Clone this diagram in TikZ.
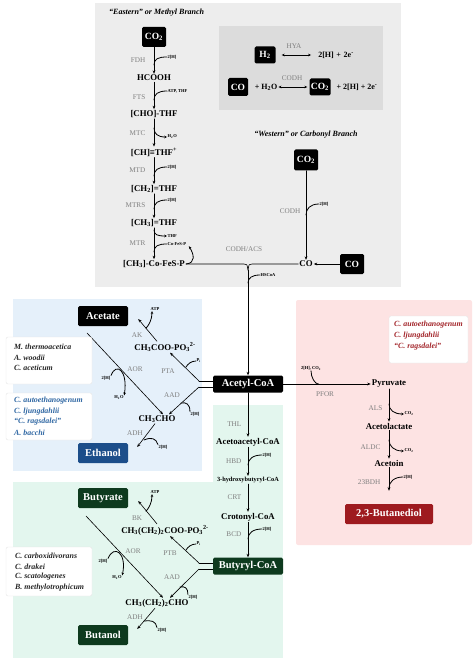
\documentclass[tikz,border=0pt]{standalone}
\usepackage{fontspec}
\setmainfont{Liberation Serif}
\usepackage{xcolor}
\usetikzlibrary{positioning,calc,arrows.meta}

\definecolor{panelgray}{HTML}{EDEDED}
\definecolor{innergray}{HTML}{DCDCDC}
\definecolor{panelblue}{HTML}{E5F0FA}
\definecolor{panelgreen}{HTML}{E3F6EE}
\definecolor{panelred}{HTML}{FDE3E3}
\definecolor{ethblue}{HTML}{1C4E8A}
\definecolor{butgreen}{HTML}{0E3A1E}
\definecolor{bdored}{HTML}{9E1A1F}
\definecolor{enzgray}{HTML}{7F7F7F}
\definecolor{orgblue}{HTML}{2F67A3}
\definecolor{orgred}{HTML}{A3262B}

\begin{document}
\begin{tikzpicture}[x=1pt,y=-1pt, line cap=round, line join=round]
	\useasboundingbox (0,0) rectangle (474,663);

	% ===== styles =====
	\tikzset{
		prodbox/.style={fill=black, text=white, rounded corners=1.5pt, inner sep=0pt,
			font=\bfseries\fontsize{10.5}{12}\selectfont, minimum width=50pt, minimum height=20pt},
		gasbox/.style={prodbox, font=\bfseries\fontsize{9.5}{11}\selectfont, minimum width=22pt, minimum height=18pt},
		met/.style={font=\bfseries\fontsize{8.8}{10}\selectfont, inner sep=1pt},
		enz/.style={text=enzgray, font=\fontsize{7.2}{8}\selectfont, inner sep=0.5pt},
		cof/.style={font=\bfseries\fontsize{4.5}{5}\selectfont, inner sep=0.5pt, anchor=west},
		flow/.style={-{Stealth[length=3.5pt,width=2.8pt]}, line width=0.6pt},
		dflow/.style={{Stealth[length=3pt,width=2.6pt]}-{Stealth[length=3pt,width=2.6pt]}, line width=0.6pt},
		cin/.style={line width=0.8pt},
		cout/.style={arrows={Stealth[length=2.8pt,width=2.6pt]-}, line width=0.8pt},
		sidearr/.style={arrows={-Stealth[length=2.8pt,width=2.6pt]}, line width=0.8pt},
		orgbox/.style={fill=white, draw=black!10, rounded corners=2pt},
		org/.style={font=\bfseries\itshape\fontsize{7.9}{9}\selectfont, anchor=west, inner sep=0pt},
		branch/.style={font=\bfseries\itshape\fontsize{8}{9}\selectfont, inner sep=0pt}
	}

	% ===== panels =====
	\fill[panelgray] (95,3) rectangle (401,287);
	\fill[innergray] (219,26) rectangle (383,110);
	\fill[panelblue] (13,299) rectangle (202,471);
	\fill[panelgreen] (213,405) rectangle (283,658);
	\fill[panelgreen] (13,482) rectangle (283,658);
	\fill[panelred, rounded corners=2pt] (296,300) rectangle (472,545);

	% ===== Eastern / methyl branch =====
	\node[branch, anchor=west] (eastlbl) at (109,13) {“Eastern” or Methyl Branch};
	\node[gasbox, minimum width=24pt, minimum height=20pt] (co2m) at (154,37) {CO\textsubscript{2}};
	\node[met] (hcooh) at (154,78) {HCOOH};
	\node[met] (chothf) at (154,114) {[CHO]-THF};
	\node[met] (chthf) at (154,152) {[CH]≡THF\textsuperscript{+}};
	\node[met] (ch2thf) at (154,189) {[CH\textsubscript{2}]=THF};
	\node[met] (ch3thf) at (154,223) {[CH\textsubscript{3}]=THF};
	\node[met] (ch3co) at (154,264) {[CH\textsubscript{3}]-Co-FeS-P};
	\foreach \a/\b in {co2m/hcooh, hcooh/chothf, chothf/chthf, chthf/ch2thf, ch2thf/ch3thf, ch3thf/ch3co}
		\draw[flow] (\a) -- (\b);
	\foreach \n/\t/\y in {fdh/FDH/60, fts/FTS/97, mtc/MTC/133, mtd/MTD/170, mtrs/MTRS/205, mtr/MTR/243}
		\node[enz, anchor=east] (\n) at (146,\y) {\t};

	\node[cof] (fdhh) at (167,57) {2[H]};
	\draw[cin] (fdhh.west) .. controls +(-9,0) and +(0,-6) .. ++(-13,8);
	\node[cof] (ftsh) at (167,91) {ATP, THF};
	\draw[cin] (ftsh.west) .. controls +(-9,0) and +(0,-6) .. ++(-13,9);
	\node[cof] (mtco) at (167,137) {H\textsubscript{2}O};
	\draw[cout] (mtco.west) .. controls +(-9,0) and +(0,6) .. ++(-13,-9);
	\node[cof] (mtdh) at (167,167) {2[H]};
	\draw[cin] (mtdh.west) .. controls +(-9,0) and +(0,-6) .. ++(-13,9);
	\node[cof] (mtrsh) at (167,200) {2[H]};
	\draw[cin] (mtrsh.west) .. controls +(-9,0) and +(0,-6) .. ++(-13,9);
	\node[cof] (mtrt) at (167,236) {THF};
	\draw[cout] (mtrt.west) .. controls +(-9,0) and +(0,5) .. ++(-13,-6);
	\node[cof] (mtrc) at (167,244) {Co-FeS-P};
	\draw[cin] (mtrc.west) .. controls +(-9,0) and +(0,-6) .. ++(-13,8);
	\draw[sidearr] (ch3co.east) .. controls +(10,-1) and +(5,8) .. ([xshift=2pt]mtrc.south east);

	% ===== gas box =====
	\node[gasbox, minimum width=21pt, minimum height=17pt] (h2) at (265,55) {H\textsubscript{2}};
	\node[met, font=\bfseries\fontsize{8}{9}\selectfont] (h2prod) at (336,55) {2[H]\,\,+\,\,2e\textsuperscript{-}};
	\node[enz] (hya) at (294,46) {HYA};
	\draw[dflow, shorten <=6pt, shorten >=6pt] (h2) -- (h2prod);
	\node[gasbox, minimum width=20pt, minimum height=18pt] (coin) at (238,87) {CO};
	\node[met, font=\bfseries\fontsize{8}{9}\selectfont] (h2oin) at (266,87) {+ H\textsubscript{2}O};
	\node[gasbox, minimum width=21pt, minimum height=17pt] (co2out) at (320,87) {CO\textsubscript{2}};
	\node[met, font=\bfseries\fontsize{8}{9}\selectfont] (coprod) at (357,87) {+ 2[H] + 2e\textsuperscript{-}};
	\node[enz] (codhin) at (292,78) {CODH};
	\draw[dflow, shorten >=2pt] (h2oin) -- (co2out);

	% ===== Western / carbonyl branch =====
	\node[branch] (westlbl) at (306,135) {“Western” or Carbonyl Branch};
	\node[gasbox, minimum width=24pt, minimum height=21pt] (co2w) at (306,160) {CO\textsubscript{2}};
	\node[met] (cow) at (306,264) {CO};
	\node[gasbox, minimum width=24pt, minimum height=20pt] (cogas) at (352,264) {CO};
	\draw[flow] (co2w) -- (cow);
	\draw[flow] (cogas) -- (cow);
	\node[enz, anchor=east] (codhw) at (301,211) {CODH};
	\node[cof] (codhh) at (319,204) {2[H]};
	\draw[cin] (codhh.west) .. controls +(-9,0) and +(0,-6) .. ++(-13,11);

	% ===== CODH/ACS =====
	\node[prodbox, minimum width=70pt, minimum height=17pt] (acoa) at (248,384) {Acetyl-CoA};
	\coordinate (jn) at (248,270);
	\draw[line width=0.6pt] (ch3co.east) -- (244,264) .. controls (247,264) .. (jn);
	\draw[line width=0.6pt] (cow.west) -- (252,264) .. controls (249,264) .. (jn);
	\draw[flow] (jn) -- (acoa);
	\node[enz] (codhacs) at (244,249) {CODH/ACS};
	\node[cof] (hscoa) at (260,275) {HSCoA};
	\draw[cin] (hscoa.west) .. controls +(-8,0) and +(0,-5) .. ++(-12,8);

	% ===== acetate / ethanol =====
	\node[prodbox] (acetate) at (103,316) {Acetate};
	\node[prodbox, fill=ethblue] (ethanol) at (103,453) {Ethanol};
	\node[met] (acp) at (165,347) {CH\textsubscript{3}COO-PO\textsubscript{3}\textsuperscript{2-}};
	\node[met] (ch3cho) at (157,419) {CH\textsubscript{3}CHO};
	\coordinate (ja) at (199,381);
	\coordinate (jb) at (199,387);
	\coordinate (aorA) at (87,333);
	\draw[line width=0.6pt] (acoa.west |- ja) -- (ja);
	\draw[line width=0.6pt] (acoa.west |- jb) -- (jb);
	\draw[flow] (ja) -- ([xshift=5pt]acp.south);
	\draw[flow] (jb) -- ([xshift=12pt]ch3cho.north);
	\draw[flow] (aorA) -- ([xshift=6pt]ch3cho.north);
	\draw[flow] ([xshift=-8pt]acp.north) -- ([shift={(10pt,-3pt)}]acetate.east);
	\draw[flow] ([xshift=-2pt]ch3cho.south) -- ([shift={(9pt,6pt)}]ethanol.east);
	\node[enz] (ak) at (137,335) {AK};
	\node[enz] (pta) at (168,371) {PTA};
	\node[enz] (aora) at (135,369) {AOR};
	\node[enz] (aad) at (172,395) {AAD};
	\node[enz] (adh) at (135,433) {ADH};
	\node[cof] (atpa) at (150,309) {ATP};
	\draw[cout] ([xshift=2pt]atpa.south west) .. controls +(0,8) and +(3,-3) .. ++(-6,17);
	\node[cof] (pia) at (196,361) {P\textsubscript{i}};
	\draw[cin] (pia.west) .. controls +(-5,0) and +(2,-3) .. ++(-10,6);
	\node[cof, anchor=center] (aorh) at (106,378) {2[H]};
	\node[cof, anchor=center] (aoro) at (119,398) {H\textsubscript{2}O};
	\draw[sidearr] (aorh.north east) .. controls (116,362) and (128,370) .. (aoro.north east);
	\node[cof, anchor=center] (aadh) at (195,414) {2[H]};
	\draw[cin] (aadh.north west) .. controls (190,404) and (186,402) .. (181,403);
	\node[cof, anchor=center] (adhh) at (163,447) {2[H]};
	\draw[cin] (adhh.north west) .. controls (156,438) and (151,437) .. (144,440);

	% ===== organisms =====
	\draw[orgbox] (6,337) rectangle (92,384);
	\foreach \t [count=\i] in {M. thermoacetica, A. woodii, C. aceticum}
		\node[org, text=black!85] (orga\i) at (14,{347+10.5*(\i-1)}) {\t};
	\draw[orgbox] (6,393) rectangle (92,440);
	\foreach \t [count=\i] in {C. autoethanogenum, C. ljungdahlii, “C. ragsdalei”, A. bacchi}
		\node[org, text=orgblue] (orgb\i) at (14,{401+10.5*(\i-1)}) {\t};
	\draw[orgbox] (6,547) rectangle (92,596);
	\foreach \t [count=\i] in {C. carboxidivorans, C. drakei, C. scatologenes, B. methylotrophicum}
		\node[org, text=black!85] (orgc\i) at (15,{556+10.5*(\i-1)}) {\t};
	\draw[orgbox] (389,316) rectangle (468,363);
	\foreach \t [count=\i] in {C. autoethanogenum, C. ljungdahlii, “C. ragsdalei”}
		\node[org, text=orgred] (orgd\i) at (394,{325+11*(\i-1)}) {\t};

	% ===== butyryl-CoA chain =====
	\node[met] (aacoa) at (248,442) {Acetoacetyl-CoA};
	\node[met, font=\bfseries\fontsize{6.3}{7}\selectfont] (hbcoa) at (248,480) {3-hydroxybutyryl-CoA};
	\node[met] (crcoa) at (248,517) {Crotonyl-CoA};
	\node[prodbox, fill=butgreen, minimum width=70pt, minimum height=17pt] (bcoa) at (248,566) {Butyryl-CoA};
	\foreach \a/\b in {acoa/aacoa, aacoa/hbcoa, hbcoa/crcoa, crcoa/bcoa}
		\draw[flow] (\a) -- (\b);
	\foreach \n/\t/\y in {thl/THL/424, hbd/HBD/461, crt/CRT/497, bcd/BCD/534}
		\node[enz, anchor=east] (\n) at (242,\y) {\t};
	\node[cof] (hbdh) at (262,455) {2[H]};
	\draw[cin] (hbdh.west) .. controls +(-9,0) and +(0,-6) .. ++(-14,10);
	\node[cof] (bcdh) at (262,529) {2[H]};
	\draw[cin] (bcdh.west) .. controls +(-9,0) and +(0,-6) .. ++(-14,10);

	% ===== butyrate / butanol =====
	\node[prodbox, fill=butgreen] (butyrate) at (103,498) {Butyrate};
	\node[prodbox, fill=butgreen] (butanol) at (103,635) {Butanol};
	\node[met] (bcp) at (165,530) {CH\textsubscript{3}(CH\textsubscript{2})\textsubscript{2}COO-PO\textsubscript{3}\textsuperscript{2-}};
	\node[met] (butal) at (157,603) {CH\textsubscript{3}(CH\textsubscript{2})\textsubscript{2}CHO};
	\coordinate (jc) at (199,563);
	\coordinate (jd) at (199,569);
	\coordinate (aorB) at (86,516);
	\draw[line width=0.6pt] (bcoa.west |- jc) -- (jc);
	\draw[line width=0.6pt] (bcoa.west |- jd) -- (jd);
	\draw[flow] (jc) -- ([xshift=5pt]bcp.south);
	\draw[flow] (jd) -- ([xshift=13pt]butal.north);
	\draw[flow] (aorB) -- ([xshift=6pt]butal.north);
	\draw[flow] ([xshift=-8pt]bcp.north) -- ([shift={(10pt,-3pt)}]butyrate.east);
	\draw[flow] ([xshift=-2pt]butal.south) -- ([shift={(9pt,6pt)}]butanol.east);
	\node[enz] (bk) at (137,518) {BK};
	\node[enz] (ptb) at (170,553) {PTB};
	\node[enz] (aorb) at (133,551) {AOR};
	\node[enz] (aadb) at (172,577) {AAD};
	\node[enz] (adhb) at (135,617) {ADH};
	\node[cof] (atpb) at (150,492) {ATP};
	\draw[cout] ([xshift=2pt]atpb.south west) .. controls +(0,8) and +(3,-3) .. ++(-6,17);
	\node[cof] (pib) at (196,544) {P\textsubscript{i}};
	\draw[cin] (pib.west) .. controls +(-5,0) and +(2,-3) .. ++(-10,6);
	\node[cof, anchor=center] (aorbh) at (103,561) {2[H]};
	\node[cof, anchor=center] (aorbo) at (117,578) {H\textsubscript{2}O};
	\draw[sidearr] (aorbh.north east) .. controls (114,544) and (127,553) .. (aorbo.north east);
	\node[cof, anchor=center] (aadbh) at (193,597) {2[H]};
	\draw[cin] (aadbh.north west) .. controls (188,588) and (185,586) .. (180,587);
	\node[cof, anchor=center] (adhbh) at (162,630) {2[H]};
	\draw[cin] (adhbh.north west) .. controls (156,621) and (151,620) .. (144,621);

	% ===== pyruvate / 2,3-butanediol =====
	\node[met] (pyr) at (389,384) {Pyruvate};
	\draw[flow] (acoa) -- (pyr);
	\node[enz] (pfor) at (325,394) {PFOR};
	\node[cof, anchor=center] (pforh) at (311,368) {2[H], CO\textsubscript{2}};
	\draw[cin] (pforh.south) .. controls +(0,7) and +(-4,0) .. ++(8,13.5);
	\node[met] (acl) at (389,426) {Acetolactate};
	\node[met] (acn) at (389,463) {Acetoin};
	\node[prodbox, fill=bdored, minimum width=88pt] (bdo) at (389,514) {2,3-Butanediol};
	\draw[flow] (pyr) -- (acl);
	\draw[flow] (acl) -- (acn);
	\draw[flow, shorten >=13pt] (acn) -- (bdo);
	\node[enz, anchor=east] (als) at (383,408) {ALS};
	\node[enz, anchor=east] (aldc) at (381,447) {ALDC};
	\node[enz, anchor=east] (bdh) at (381,482) {23BDH};
	\node[cof] (alsc) at (404,414) {CO\textsubscript{2}};
	\draw[cout] (alsc.west) .. controls +(-10,0) and +(0,6) .. ++(-15,-10);
	\node[cof] (aldcc) at (404,451) {CO\textsubscript{2}};
	\draw[cout] (aldcc.west) .. controls +(-10,0) and +(0,6) .. ++(-15,-11);
	\node[cof] (bdhh) at (403,477) {2[H]};
	\draw[cin] (bdhh.west) .. controls +(-9,0) and +(0,-6) .. ++(-14,11);
\end{tikzpicture}
\end{document}
